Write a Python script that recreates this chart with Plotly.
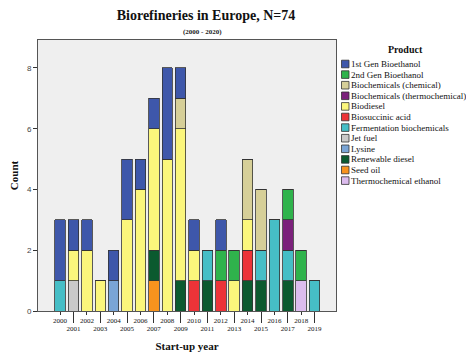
import plotly.graph_objects as go

years = list(range(2000, 2020))

products = [
    "1st Gen Bioethanol", "2nd Gen Bioethanol", "Biochemicals (chemical)",
    "Biochemicals (thermochemical)", "Biodiesel", "Biosuccinic acid",
    "Fermentation biochemicals", "Jet fuel", "Lysine", "Renewable diesel",
    "Seed oil", "Thermochemical ethanol",
]
colors = [
    "#3e57aa", "#2fb34c", "#d6cf98", "#7b217b", "#fbf67c", "#ec3338",
    "#46bec6", "#c9c9c9", "#7aa5d6", "#0b5a2f", "#f7931e", "#dcbcee",
]

#              2000 ... 2019
first_gen    = [2, 1, 1, 0, 1, 2, 1, 1, 3, 1, 1, 0, 1, 0, 0, 0, 0, 0, 0, 0]
second_gen   = [0, 0, 0, 0, 0, 0, 0, 0, 0, 0, 0, 0, 1, 1, 0, 0, 0, 1, 1, 0]
biochem_chem = [0, 0, 0, 0, 0, 0, 0, 0, 0, 1, 0, 0, 0, 0, 2, 2, 0, 0, 0, 0]
biochem_thrm = [0, 0, 0, 0, 0, 0, 0, 0, 0, 0, 0, 0, 0, 0, 0, 0, 0, 1, 0, 0]
biodiesel    = [0, 1, 2, 1, 0, 3, 4, 4, 5, 5, 1, 0, 0, 1, 1, 0, 0, 0, 0, 0]
biosuccinic  = [0, 0, 0, 0, 0, 0, 0, 0, 0, 0, 1, 0, 1, 0, 1, 0, 0, 0, 0, 0]
fermentation = [1, 0, 0, 0, 0, 0, 0, 0, 0, 0, 0, 1, 0, 0, 0, 1, 3, 1, 0, 1]
jet_fuel     = [0, 1, 0, 0, 0, 0, 0, 0, 0, 0, 0, 0, 0, 0, 0, 0, 0, 0, 0, 0]
lysine       = [0, 0, 0, 0, 1, 0, 0, 0, 0, 0, 0, 0, 0, 0, 0, 0, 0, 0, 0, 0]
renew_diesel = [0, 0, 0, 0, 0, 0, 0, 1, 0, 1, 0, 1, 0, 0, 1, 1, 0, 1, 0, 0]
seed_oil     = [0, 0, 0, 0, 0, 0, 0, 1, 0, 0, 0, 0, 0, 0, 0, 0, 0, 0, 0, 0]
thermo_eth   = [0, 0, 0, 0, 0, 0, 0, 0, 0, 0, 0, 0, 0, 0, 0, 0, 0, 0, 1, 0]

series = [first_gen, second_gen, biochem_chem, biochem_thrm, biodiesel, biosuccinic,
          fermentation, jet_fuel, lysine, renew_diesel, seed_oil, thermo_eth]

even_years = [y for y in years if y % 2 == 0]
odd_years = [y for y in years if y % 2 == 1]
y_ticks = [0, 2, 4, 6, 8]

serif = "Liberation Serif"

# the page body adds an 8px margin; layout is expressed in window pixels minus it
OFF = 8
W, H = 474 - OFF, 363 - OFF
L, R, T, B = 38 - OFF, 336 - OFF, 40 - OFF, 311 - OFF


def px(xp):
    return (xp - OFF - L) / (R - L)


def py(yp):
    return (B - (yp - OFF)) / (B - T)


fig = go.Figure()

# stack bottom-up in reverse alphabetical order
for name, col, vals in reversed(list(zip(products, colors, series))):
    fig.add_trace(go.Bar(
        x=years, y=vals, name=name, marker_color=col,
        marker_line_color="#333333", marker_line_width=0.8, showlegend=False,
    ))

# helper trace for the secondary (odd-year) axis
fig.add_trace(go.Scatter(x=odd_years, y=[0] * len(odd_years), xaxis="x2",
                         mode="markers", marker_opacity=0, showlegend=False,
                         hoverinfo="skip"))

# compact legend
shapes = []
annotations = [
    dict(text="<b>(2000 - 2020)</b>", xref="paper", yref="paper",
         x=px(202), y=py(32), showarrow=False, yanchor="middle",
         font=dict(family=serif, size=7, color="#222")),
    dict(text="<b>Product</b>", xref="paper", yref="paper",
         x=px(405), y=py(49), showarrow=False, xanchor="center", yanchor="middle",
         font=dict(family=serif, size=10, color="#111")),
]
y0, step = 64, 10.6
for i, (name, col) in enumerate(zip(products, colors)):
    yc = y0 + i * step
    shapes.append(dict(type="rect", xref="paper", yref="paper",
                       x0=px(341.5), x1=px(349), y0=py(yc + 3.8), y1=py(yc - 3.8),
                       fillcolor=col, line=dict(color="#333", width=0.8)))
    annotations.append(dict(text=name, xref="paper", yref="paper", x=px(348.5), y=py(yc),
                            xanchor="left", yanchor="middle", showarrow=False,
                            font=dict(family=serif, size=9, color="#111")))

xr = [1998.35, 2020.6]
fig.update_layout(
    width=W, height=H,
    margin=dict(l=L, r=W - R, t=T, b=H - B, autoexpand=False),
    paper_bgcolor="white", plot_bgcolor="#efefef",
    barmode="stack", bargap=0.22,
    showlegend=False,
    title=dict(text="<b>Biorefineries in Europe, N=74</b>", x=(206 - OFF) / W, xref="container",
               xanchor="center", y=1 - (15 - OFF) / H, yref="container", yanchor="middle",
               font=dict(family=serif, size=14, color="#111")),
    shapes=shapes,
    annotations=annotations,
    xaxis=dict(range=xr, tickmode="array", tickvals=even_years,
               ticktext=[str(y) for y in even_years], ticks="outside", ticklen=3,
               tickcolor="#333", showline=True, linecolor="#555", mirror=True,
               showgrid=False, zeroline=False, automargin=False,
               tickfont=dict(family=serif, size=7, color="#111")),
    xaxis2=dict(range=xr, overlaying="x", anchor="y", side="bottom", tickmode="array",
                tickvals=odd_years, ticktext=[str(y) for y in odd_years], ticks="outside",
                ticklen=11, tickcolor="#333", showgrid=False, zeroline=False, showline=False,
                automargin=False,
                tickfont=dict(family=serif, size=7, color="#111"),
                title=dict(text="<b>Start-up year</b>",
                           font=dict(family=serif, size=11, color="#111"), standoff=9)),
    yaxis=dict(range=[0, 8.92], tickmode="array", tickvals=y_ticks, ticks="outside",
               ticklen=4, tickcolor="#333", showline=True, linecolor="#555", mirror=True,
               showgrid=False, zeroline=False, automargin=False,
               tickfont=dict(family="Liberation Sans", size=8, color="#444"),
               title=dict(text="<b>Count</b>", font=dict(family=serif, size=11, color="#111"),
                          standoff=12)),
)

fig.write_html("out.html")
